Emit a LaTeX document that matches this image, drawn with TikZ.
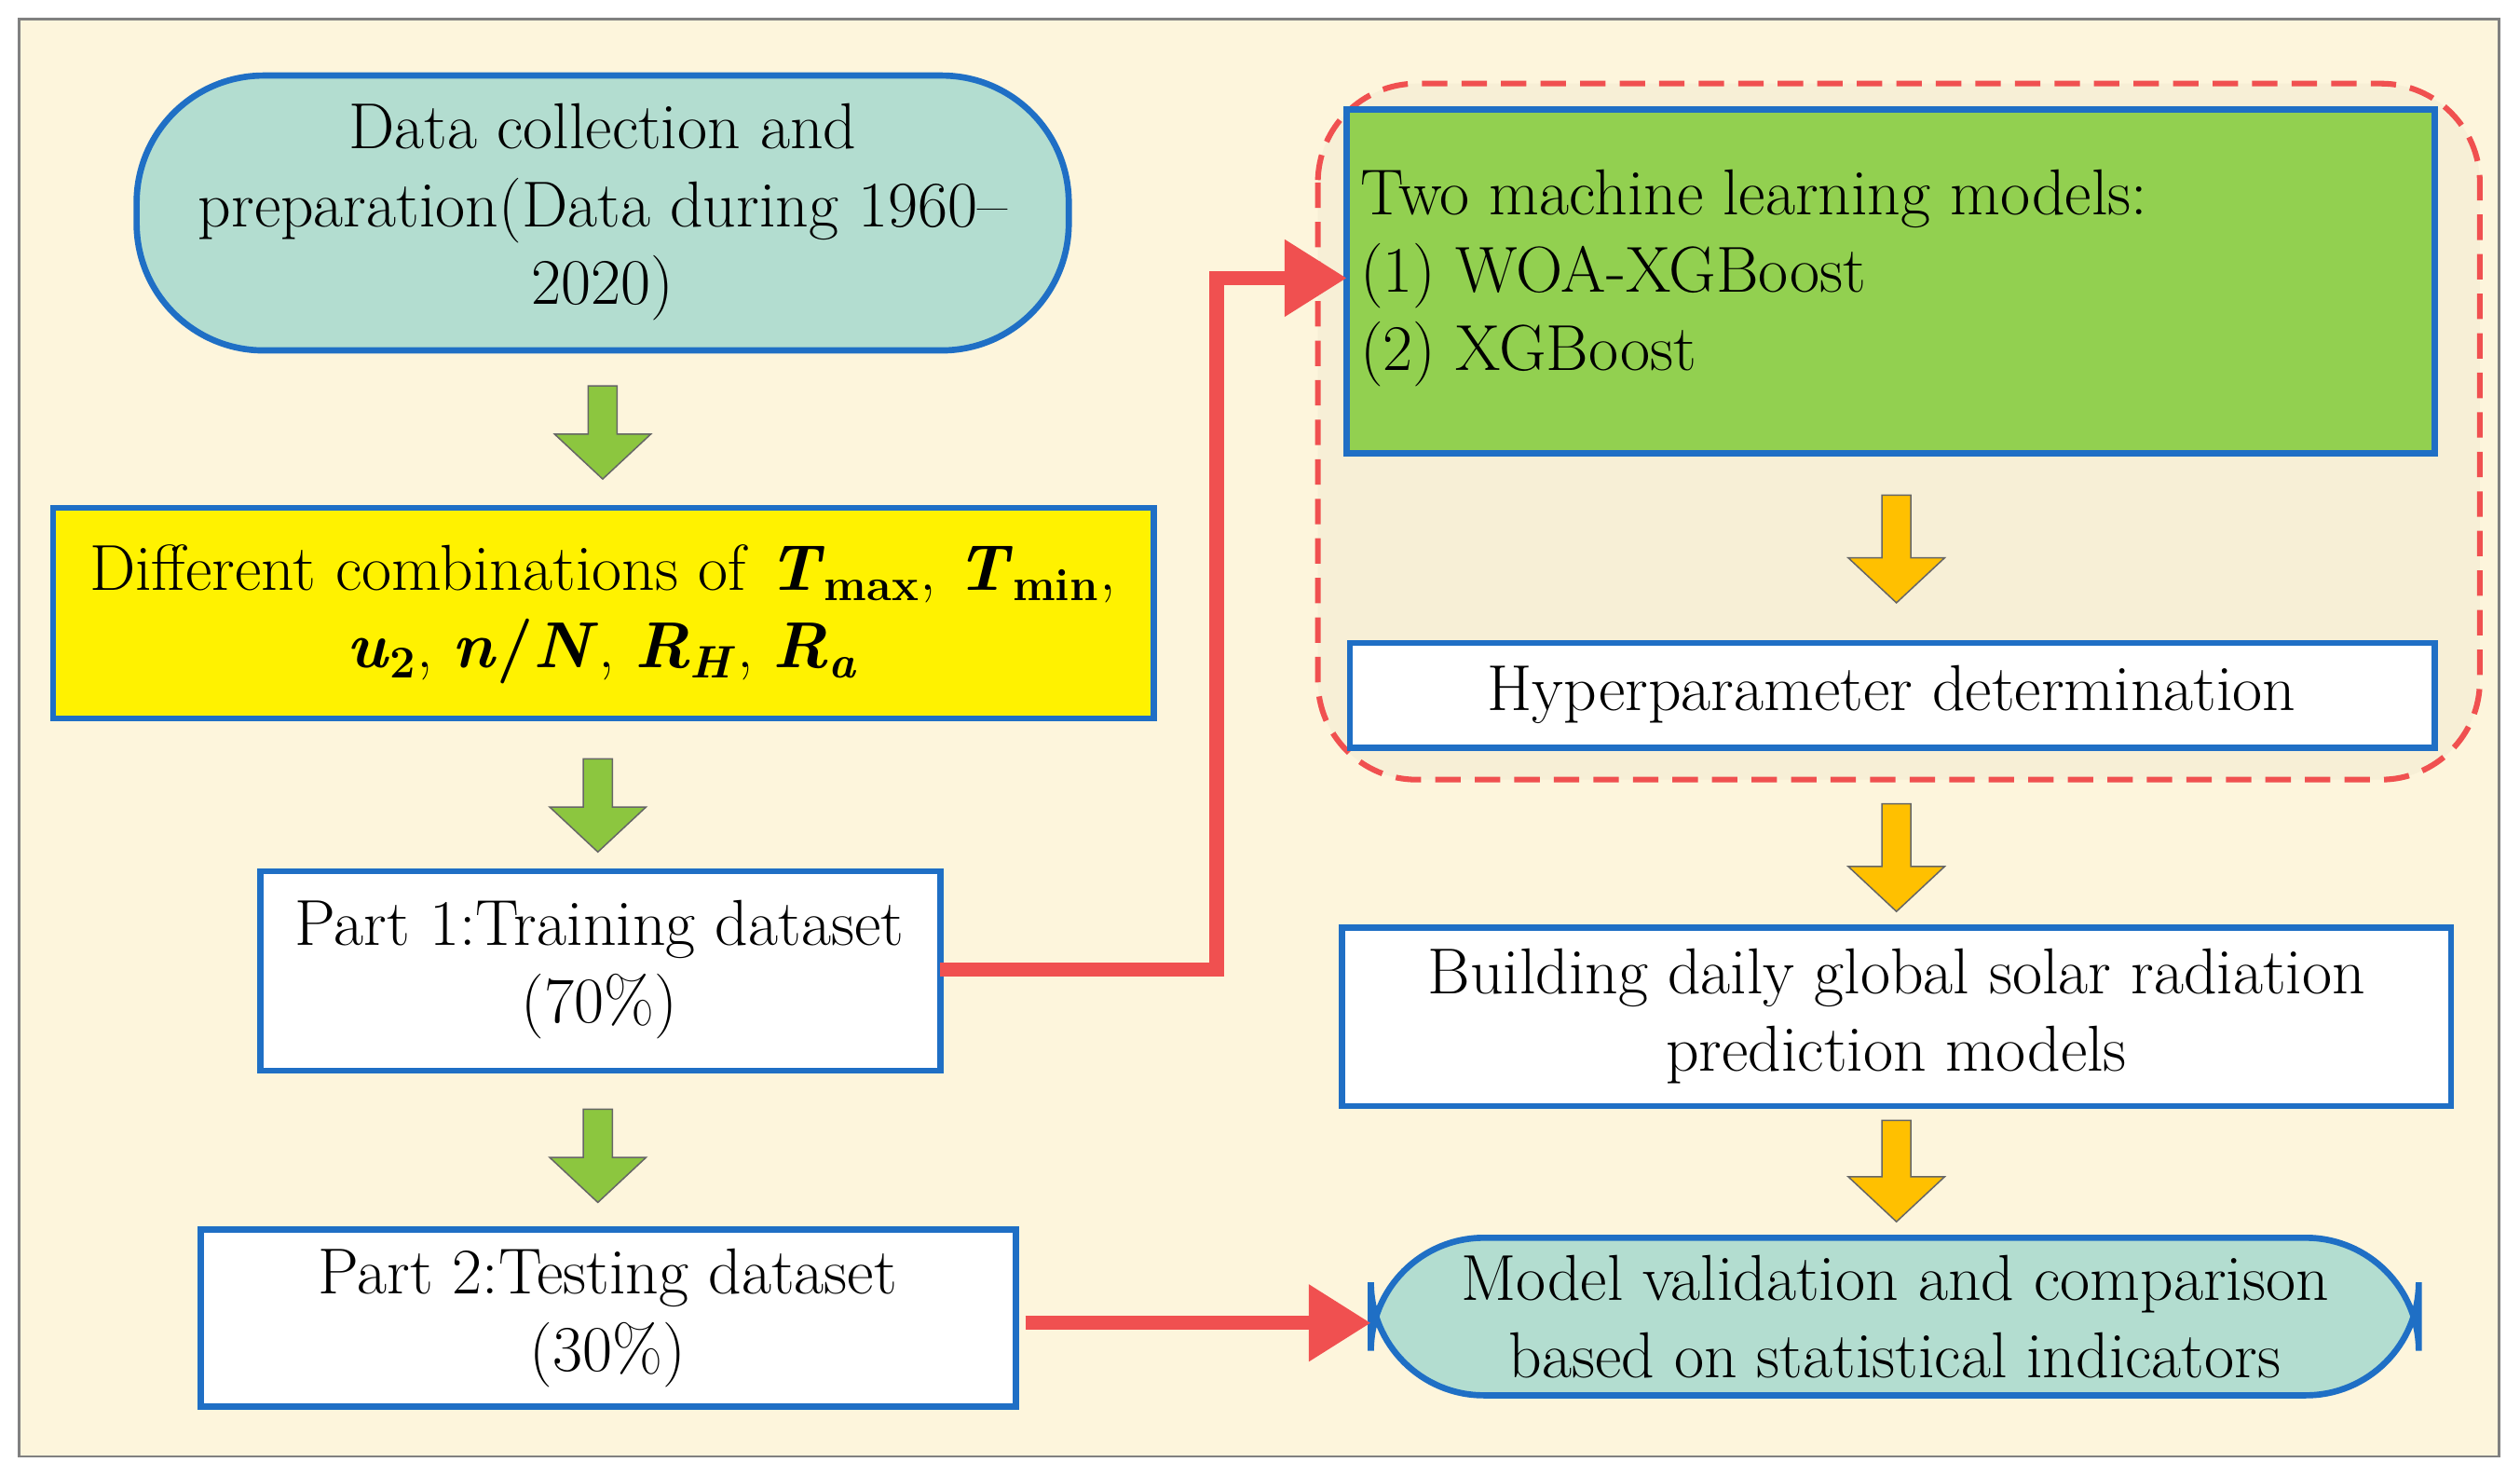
\documentclass[tikz,border=0pt]{standalone}
\usetikzlibrary{arrows.meta}
\definecolor{bgc}{HTML}{FDF5DC}
\definecolor{inner}{HTML}{F7EFD6}
\definecolor{bblue}{HTML}{1F6FC5}
\definecolor{teal}{HTML}{B3DDD0}
\definecolor{gfill}{HTML}{92D050}
\definecolor{garr}{HTML}{8CC63F}
\definecolor{oarr}{HTML}{FFC000}
\definecolor{rline}{HTML}{F05050}
\tikzset{
 box/.style={draw=bblue,line width=2.2pt,fill=white},
 txt/.style={align=center,font=\fontsize{23}{27.5}\selectfont,inner sep=0pt},
 flow/.style={draw=rline,line width=5pt,-{Triangle[length=22pt,width=26pt]}},
 garrow/.style={fill=garr,draw=black!60,line width=0.5pt},
 oarrow/.style={fill=oarr,draw=black!60,line width=0.5pt}
}
\newcommand{\blockarrow}[4]{% x, ytop, ybottom, style
 \path[#4] (#1-9,#2) -- (#1+9,#2) -- (#1+9,#3-28) -- (#1+30,#3-28) -- (#1,#3) -- (#1-30,#3-28) -- (#1-9,#3-28) -- cycle;}
\begin{document}
\begin{tikzpicture}[x=0.02cm,y=-0.02cm]
\useasboundingbox (0,0) rectangle (1568,918);
\draw[fill=bgc,draw=black!50,line width=0.8pt] (12,12) rectangle (1555,906);
% left column
\draw[box,fill=teal,rounded corners=45] (85,47) rectangle (665,218);
\node[txt] (b1) at (375,132) {Data collection and\\preparation(Data during 1960--\\2020)};
\blockarrow{375}{240}{298}{garrow}
\draw[box,fill=yellow] (33,316) rectangle (718,447);
\node[txt] (b2) at (375,382) {Different combinations of \textbf{\textit{T}\textsubscript{max}}, \textbf{\textit{T}\textsubscript{min}},\\\textbf{\textit{u}\textsubscript{2}}, \textbf{\textit{n}/\textit{N}}, \textbf{\textit{R}\textsubscript{\textit{H}}}, \textbf{\textit{R}\textsubscript{\textit{a}}}};
\blockarrow{372}{472}{530}{garrow}
\draw[box] (162,542) rectangle (585,666);
\node[txt] (b3) at (373,603) {Part 1:Training dataset\\(70\%)};
\blockarrow{372}{690}{748}{garrow}
\draw[box] (125,765) rectangle (632,875);
\node[txt] (b4) at (378,820) {Part 2:Testing dataset\\(30\%)};
% right column
\draw[rline,line width=2pt,dashed,dash pattern=on 9pt off 5pt,fill=inner,rounded corners=35] (820,52) rectangle (1543,485);
\draw[box,fill=gfill] (838,68) rectangle (1515,282);
\node[txt,align=left,anchor=west] (g) at (846,173) {Two machine learning models:\\(1) WOA-XGBoost\\(2) XGBoost};
\coordinate (gin) at (838,173);
\blockarrow{1180}{308}{375}{oarrow}
\draw[box] (840,400) rectangle (1515,465);
\node[txt] (h) at (1177,432) {Hyperparameter determination};
\blockarrow{1180}{500}{567}{oarrow}
\draw[box] (835,577) rectangle (1525,688);
\node[txt] (bd) at (1180,632) {Building daily global solar radiation\\prediction models};
\blockarrow{1180}{697}{760}{oarrow}
\draw[box,fill=teal,rounded corners=40] (853,770) rectangle (1505,868);
\node[txt] (mv) at (1179,819) {Model validation and comparison\\based on statistical indicators};
\coordinate (mvin) at (853,823);
% connectors
\coordinate (c1) at (757,603);
\draw[flow] (585,603) -- (c1) -- (c1|-gin) -- (gin);
\draw[flow] (638,823) -- (mvin);
\end{tikzpicture}
\end{document}
